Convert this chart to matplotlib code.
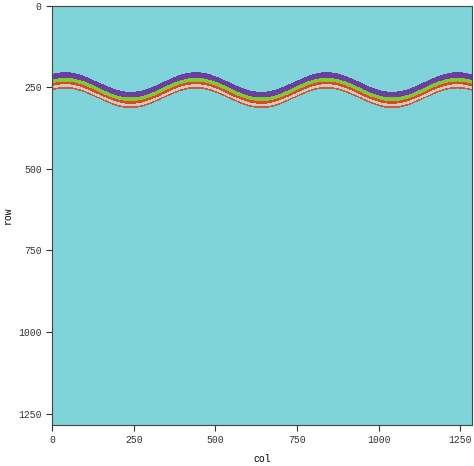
import matplotlib
import numpy as np

matplotlib.use('Agg')
import matplotlib.pyplot as plt  # noqa: E402
from matplotlib.colors import ListedColormap  # noqa: E402

N_ROWS, N_COLS = 1285, 1285
PERIOD = 400
PEAK_COL = 40
AMPLITUDE = 30
TOP_MEAN = 235
# layer bottoms, as offsets below the top of the purple band
LAYER_OFFSETS = [17, 29, 37, 45, 50]
LAYER_COLORS = ['#7fd4d9', '#6b3fa2', '#7ecb34', '#e2451f', '#c9cdc5', '#c85a38']

plt.rcParams['font.family'] = ['Liberation Mono', 'DejaVu Sans Mono']

rows = np.arange(N_ROWS)[:, None]
cols = np.arange(N_COLS)[None, :]
top = TOP_MEAN - AMPLITUDE * np.cos(2 * np.pi * (cols - PEAK_COL) / PERIOD)
depth = rows - top
img = np.zeros((N_ROWS, N_COLS), dtype=int)
prev = 0
for i, off in enumerate(LAYER_OFFSETS):
    img[(depth >= prev) & (depth < off)] = i + 1
    prev = off

fig = plt.figure(figsize=(4.74, 4.66), dpi=100)
ax = fig.add_axes([0.11, 0.088, 0.885, 0.9])
ax.imshow(img, cmap=ListedColormap(LAYER_COLORS), vmin=-0.5,
          vmax=len(LAYER_COLORS) - 0.5, aspect='auto', interpolation='nearest',
          extent=(0, N_COLS, N_ROWS, 0))
ax.set_xlim(0, N_COLS)
ax.set_ylim(N_ROWS, 0)
ax.set_xticks([0, 250, 500, 750, 1000, 1250])
ax.set_yticks([0, 250, 500, 750, 1000, 1250])
ax.tick_params(labelsize=7, colors='#333333', length=4)
for s in ax.spines.values():
    s.set_color('#444444')
ax.set_xlabel('col', fontsize=7, labelpad=6)
ax.set_ylabel('row', fontsize=7, labelpad=4)
fig.savefig('out.png', dpi=100)
